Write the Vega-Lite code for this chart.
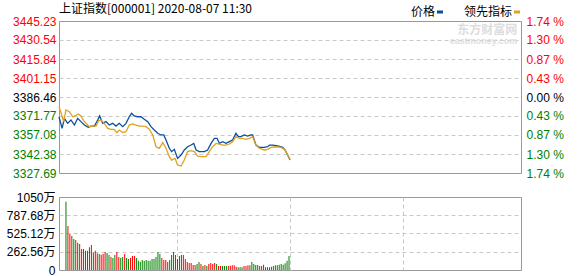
{
  "$schema": "https://vega.github.io/schema/vega-lite/v6.json",
  "padding": {"left": 5, "top": 2, "right": 5, "bottom": 3},
  "background": "white",
  "bounds": "flush",
  "spacing": 24,
  "resolve": {"scale": {"color": "independent"}, "legend": {"color": "independent"}},
  "datasets": {
    "lines": [
      {"t":0,"p":3371.2,"s":"价格"},{"t":1.6,"p":3362.2,"s":"价格"},{"t":2.8,"p":3370.0,"s":"价格"},{"t":4.5,"p":3366.1,"s":"价格"},{"t":6.2,"p":3368.7,"s":"价格"},{"t":8.0,"p":3364.8,"s":"价格"},{"t":9.7,"p":3370.0,"s":"价格"},{"t":11.4,"p":3367.4,"s":"价格"},{"t":13.2,"p":3364.8,"s":"价格"},{"t":15.2,"p":3363.0,"s":"价格"},{"t":16.6,"p":3364.0,"s":"价格"},{"t":18.4,"p":3364.0,"s":"价格"},{"t":20.1,"p":3368.7,"s":"价格"},{"t":21.1,"p":3371.8,"s":"价格"},{"t":22.7,"p":3366.1,"s":"价格"},{"t":24.4,"p":3367.4,"s":"价格"},{"t":26.1,"p":3364.8,"s":"价格"},{"t":27.9,"p":3366.1,"s":"价格"},{"t":29.6,"p":3364.0,"s":"价格"},{"t":31.3,"p":3366.1,"s":"价格"},{"t":33.1,"p":3363.5,"s":"价格"},{"t":34.8,"p":3366.1,"s":"价格"},{"t":36.5,"p":3371.2,"s":"价格"},{"t":37.7,"p":3373.8,"s":"价格"},{"t":39.1,"p":3371.8,"s":"价格"},{"t":40.9,"p":3371.2,"s":"价格"},{"t":42.6,"p":3371.2,"s":"价格"},{"t":44.3,"p":3369.2,"s":"价格"},{"t":46.1,"p":3367.4,"s":"价格"},{"t":47.8,"p":3363.5,"s":"价格"},{"t":49.5,"p":3360.9,"s":"价格"},{"t":51.3,"p":3358.4,"s":"价格"},{"t":53.0,"p":3357.1,"s":"价格"},{"t":54.4,"p":3357.1,"s":"价格"},{"t":55.6,"p":3353.2,"s":"价格"},{"t":57.3,"p":3346.8,"s":"价格"},{"t":58.5,"p":3344.2,"s":"价格"},{"t":59.9,"p":3346.0,"s":"价格"},{"t":61.6,"p":3339.0,"s":"价格"},{"t":63.4,"p":3341.6,"s":"价格"},{"t":65.1,"p":3345.5,"s":"价格"},{"t":66.8,"p":3348.0,"s":"价格"},{"t":68.6,"p":3349.3,"s":"价格"},{"t":70.0,"p":3350.6,"s":"价格"},{"t":71.2,"p":3345.5,"s":"价格"},{"t":72.9,"p":3344.2,"s":"价格"},{"t":75.5,"p":3344.2,"s":"价格"},{"t":77.2,"p":3345.5,"s":"价格"},{"t":79.0,"p":3350.6,"s":"价格"},{"t":80.7,"p":3354.5,"s":"价格"},{"t":82.1,"p":3354.5,"s":"价格"},{"t":83.3,"p":3350.6,"s":"价格"},{"t":85.0,"p":3351.9,"s":"价格"},{"t":86.8,"p":3350.6,"s":"价格"},{"t":88.5,"p":3351.9,"s":"价格"},{"t":90.2,"p":3353.2,"s":"价格"},{"t":91.9,"p":3358.4,"s":"价格"},{"t":93.2,"p":3355.8,"s":"价格"},{"t":94.5,"p":3355.8,"s":"价格"},{"t":96.3,"p":3357.1,"s":"价格"},{"t":98.0,"p":3356.3,"s":"价格"},{"t":99.7,"p":3357.1,"s":"价格"},{"t":100.6,"p":3357.1,"s":"价格"},{"t":102.3,"p":3349.3,"s":"价格"},{"t":104.1,"p":3347.5,"s":"价格"},{"t":106.7,"p":3347.5,"s":"价格"},{"t":108.4,"p":3348.0,"s":"价格"},{"t":109.3,"p":3349.3,"s":"价格"},{"t":111.0,"p":3349.3,"s":"价格"},{"t":113.6,"p":3348.6,"s":"价格"},{"t":116.2,"p":3347.5,"s":"价格"},{"t":117.4,"p":3345.5,"s":"价格"},{"t":118.8,"p":3341.6,"s":"价格"},{"t":120,"p":3337.7,"s":"价格"},
      {"t":0,"p":3379.0,"s":"领先指标"},{"t":1.4,"p":3372.5,"s":"领先指标"},{"t":2.4,"p":3367.4,"s":"领先指标"},{"t":3.6,"p":3376.4,"s":"领先指标"},{"t":5.4,"p":3375.1,"s":"领先指标"},{"t":7.1,"p":3371.2,"s":"领先指标"},{"t":8.3,"p":3371.8,"s":"领先指标"},{"t":10.0,"p":3373.3,"s":"领先指标"},{"t":11.4,"p":3371.8,"s":"领先指标"},{"t":12.8,"p":3368.2,"s":"领先指标"},{"t":14.0,"p":3366.1,"s":"领先指标"},{"t":15.8,"p":3363.5,"s":"领先指标"},{"t":17.5,"p":3364.0,"s":"领先指标"},{"t":19.2,"p":3364.0,"s":"领先指标"},{"t":20.6,"p":3368.2,"s":"领先指标"},{"t":21.8,"p":3368.7,"s":"领先指标"},{"t":23.5,"p":3366.1,"s":"领先指标"},{"t":25.3,"p":3362.2,"s":"领先指标"},{"t":27.0,"p":3361.5,"s":"领先指标"},{"t":28.7,"p":3361.5,"s":"领先指标"},{"t":30.1,"p":3358.9,"s":"领先指标"},{"t":31.3,"p":3360.9,"s":"领先指标"},{"t":33.1,"p":3358.9,"s":"领先指标"},{"t":34.8,"p":3359.6,"s":"领先指标"},{"t":36.5,"p":3364.8,"s":"领先指标"},{"t":38.3,"p":3365.6,"s":"领先指标"},{"t":40.0,"p":3364.8,"s":"领先指标"},{"t":41.7,"p":3364.0,"s":"领先指标"},{"t":43.5,"p":3364.0,"s":"领先指标"},{"t":45.2,"p":3363.5,"s":"领先指标"},{"t":46.9,"p":3361.5,"s":"领先指标"},{"t":48.7,"p":3357.1,"s":"领先指标"},{"t":50.4,"p":3348.0,"s":"领先指标"},{"t":52.1,"p":3346.8,"s":"领先指标"},{"t":53.9,"p":3351.2,"s":"领先指标"},{"t":55.6,"p":3346.8,"s":"领先指标"},{"t":57.3,"p":3340.3,"s":"领先指标"},{"t":58.5,"p":3337.7,"s":"领先指标"},{"t":60.3,"p":3339.0,"s":"领先指标"},{"t":61.6,"p":3333.9,"s":"领先指标"},{"t":63.4,"p":3333.1,"s":"领先指标"},{"t":65.1,"p":3337.7,"s":"领先指标"},{"t":66.8,"p":3344.2,"s":"领先指标"},{"t":68.6,"p":3345.0,"s":"领先指标"},{"t":70.3,"p":3344.2,"s":"领先指标"},{"t":72.0,"p":3340.8,"s":"领先指标"},{"t":73.8,"p":3340.3,"s":"领先指标"},{"t":76.4,"p":3340.3,"s":"领先指标"},{"t":78.1,"p":3344.2,"s":"领先指标"},{"t":79.8,"p":3348.0,"s":"领先指标"},{"t":81.6,"p":3350.6,"s":"领先指标"},{"t":83.3,"p":3350.1,"s":"领先指标"},{"t":85.0,"p":3349.3,"s":"领先指标"},{"t":86.8,"p":3349.3,"s":"领先指标"},{"t":88.5,"p":3350.1,"s":"领先指标"},{"t":90.2,"p":3351.9,"s":"领先指标"},{"t":91.9,"p":3355.8,"s":"领先指标"},{"t":93.7,"p":3354.5,"s":"领先指标"},{"t":95.4,"p":3354.5,"s":"领先指标"},{"t":97.1,"p":3353.7,"s":"领先指标"},{"t":98.9,"p":3354.5,"s":"领先指标"},{"t":100.6,"p":3355.8,"s":"领先指标"},{"t":102.3,"p":3349.3,"s":"领先指标"},{"t":104.1,"p":3346.8,"s":"领先指标"},{"t":106.7,"p":3345.5,"s":"领先指标"},{"t":108.4,"p":3346.0,"s":"领先指标"},{"t":110.1,"p":3347.5,"s":"领先指标"},{"t":112.7,"p":3348.0,"s":"领先指标"},{"t":115.3,"p":3347.5,"s":"领先指标"},{"t":117.1,"p":3346.0,"s":"领先指标"},{"t":118.4,"p":3342.9,"s":"领先指标"},{"t":120,"p":3338.2,"s":"领先指标"}
    ],
    "vol": [
      {"i":0,"v":983,"c":"G"},{"i":1,"v":633,"c":"R"},{"i":2,"v":518,"c":"R"},{"i":3,"v":489,"c":"G"},{"i":4,"v":446,"c":"G"},{"i":5,"v":432,"c":"R"},{"i":6,"v":393,"c":"G"},{"i":7,"v":374,"c":"R"},{"i":8,"v":302,"c":"R"},{"i":9,"v":302,"c":"G"},{"i":10,"v":278,"c":"R"},{"i":11,"v":278,"c":"R"},{"i":12,"v":326,"c":"G"},{"i":13,"v":360,"c":"R"},{"i":14,"v":254,"c":"G"},{"i":15,"v":278,"c":"R"},{"i":16,"v":240,"c":"R"},{"i":17,"v":230,"c":"G"},{"i":18,"v":221,"c":"R"},{"i":19,"v":230,"c":"R"},{"i":20,"v":259,"c":"R"},{"i":21,"v":245,"c":"G"},{"i":22,"v":216,"c":"G"},{"i":23,"v":187,"c":"R"},{"i":24,"v":173,"c":"G"},{"i":25,"v":216,"c":"G"},{"i":26,"v":259,"c":"R"},{"i":27,"v":187,"c":"R"},{"i":28,"v":173,"c":"G"},{"i":29,"v":187,"c":"G"},{"i":30,"v":230,"c":"R"},{"i":31,"v":173,"c":"G"},{"i":32,"v":158,"c":"G"},{"i":33,"v":173,"c":"R"},{"i":34,"v":201,"c":"R"},{"i":35,"v":201,"c":"R"},{"i":36,"v":173,"c":"G"},{"i":37,"v":134,"c":"G"},{"i":38,"v":120,"c":"G"},{"i":39,"v":144,"c":"G"},{"i":40,"v":129,"c":"G"},{"i":41,"v":144,"c":"G"},{"i":42,"v":134,"c":"G"},{"i":43,"v":134,"c":"G"},{"i":44,"v":158,"c":"G"},{"i":45,"v":158,"c":"G"},{"i":46,"v":187,"c":"G"},{"i":47,"v":259,"c":"G"},{"i":48,"v":230,"c":"G"},{"i":49,"v":173,"c":"R"},{"i":50,"v":144,"c":"R"},{"i":51,"v":144,"c":"R"},{"i":52,"v":115,"c":"G"},{"i":53,"v":144,"c":"G"},{"i":54,"v":216,"c":"G"},{"i":55,"v":259,"c":"G"},{"i":56,"v":216,"c":"R"},{"i":57,"v":158,"c":"R"},{"i":58,"v":201,"c":"G"},{"i":59,"v":216,"c":"G"},{"i":60,"v":216,"c":"R"},{"i":61,"v":158,"c":"R"},{"i":62,"v":115,"c":"R"},{"i":63,"v":101,"c":"R"},{"i":64,"v":101,"c":"R"},{"i":65,"v":72,"c":"R"},{"i":66,"v":72,"c":"R"},{"i":67,"v":86,"c":"G"},{"i":68,"v":115,"c":"G"},{"i":69,"v":86,"c":"R"},{"i":70,"v":58,"c":"G"},{"i":71,"v":72,"c":"R"},{"i":72,"v":58,"c":"G"},{"i":73,"v":86,"c":"R"},{"i":74,"v":101,"c":"R"},{"i":75,"v":86,"c":"R"},{"i":76,"v":101,"c":"R"},{"i":77,"v":86,"c":"G"},{"i":78,"v":58,"c":"R"},{"i":79,"v":58,"c":"R"},{"i":80,"v":58,"c":"G"},{"i":81,"v":58,"c":"G"},{"i":82,"v":58,"c":"G"},{"i":83,"v":58,"c":"R"},{"i":84,"v":62,"c":"R"},{"i":85,"v":67,"c":"R"},{"i":86,"v":67,"c":"R"},{"i":87,"v":48,"c":"R"},{"i":88,"v":38,"c":"G"},{"i":89,"v":38,"c":"G"},{"i":90,"v":38,"c":"G"},{"i":91,"v":58,"c":"R"},{"i":92,"v":58,"c":"R"},{"i":93,"v":67,"c":"R"},{"i":94,"v":67,"c":"G"},{"i":95,"v":115,"c":"G"},{"i":96,"v":86,"c":"G"},{"i":97,"v":72,"c":"G"},{"i":98,"v":72,"c":"G"},{"i":99,"v":58,"c":"R"},{"i":100,"v":58,"c":"R"},{"i":101,"v":77,"c":"G"},{"i":102,"v":38,"c":"G"},{"i":103,"v":38,"c":"G"},{"i":104,"v":38,"c":"G"},{"i":105,"v":48,"c":"G"},{"i":106,"v":58,"c":"G"},{"i":107,"v":67,"c":"G"},{"i":108,"v":67,"c":"G"},{"i":109,"v":77,"c":"G"},{"i":110,"v":86,"c":"G"},{"i":111,"v":77,"c":"G"},{"i":112,"v":96,"c":"G"},{"i":113,"v":134,"c":"G"},{"i":114,"v":201,"c":"G"}
    ]
  },
  "vconcat": [
    {
      "width": 462,
      "height": 152,
      "title": {"text": "上证指数[000001] 2020-08-07 11:30", "anchor": "start", "frame": "group", "fontSize": 12, "fontWeight": "normal", "font": "Noto Sans CJK SC", "color": "#000000", "offset": -10},
      "layer": [
        {
          "data": {"name": "lines"},
          "mark": {"type": "line", "strokeWidth": 1.3},
          "encoding": {
            "x": {"field": "t", "type": "quantitative", "scale": {"domain": [0, 240], "nice": false, "zero": false},
              "axis": {"values": [0, 60, 120, 180, 240], "title": null, "ticks": false, "domain": false, "labelPadding": 4, "labelFont": "Liberation Sans", "labelFontSize": 11, "labelColor": "#000000",
                "labelExpr": "datum.value == 0 ? '09:30' : datum.value == 60 ? '10:30' : datum.value == 120 ? '11:30/13:00' : datum.value == 180 ? '14:00' : '15:00'",
                "grid": true, "gridDash": [4, 3], "gridColor": "#c8c8c8",
                "gridOpacity": {"condition": {"test": "datum.value == 0 || datum.value == 240", "value": 0}, "value": 1}}},
            "y": {"field": "p", "type": "quantitative", "scale": {"domain": [3327.69, 3445.23], "nice": false, "zero": false},
              "axis": {"values": [3327.69, 3342.38, 3357.08, 3371.77, 3386.46, 3401.15, 3415.84, 3430.54, 3445.23], "format": ".2f", "title": null, "ticks": false, "domain": false, "labelPadding": 3, "labelFont": "Liberation Sans", "labelFontSize": 12,
                "labelColor": {"condition": [{"test": "datum.value > 3387", "value": "#ff0000"}, {"test": "datum.value < 3386", "value": "#008000"}], "value": "#000000"},
                "grid": true, "gridDash": [4, 3], "gridColor": "#c8c8c8",
                "gridOpacity": {"condition": {"test": "datum.value < 3328 || datum.value > 3445", "value": 0}, "value": 1}}},
            "color": {"field": "s", "type": "nominal", "scale": {"domain": ["价格", "领先指标"], "range": ["#0c4f9e", "#e0a21e"]},
              "legend": {"orient": "none", "legendX": 375, "legendY": -15, "direction": "horizontal", "title": null, "labelFont": "Noto Sans CJK SC", "labelFontSize": 12, "labelColor": "#000000", "symbolType": "stroke", "symbolSize": 36, "symbolStrokeWidth": 3, "labelAlign": "right", "labelOffset": -11, "columnPadding": 14}}
          }
        },
        {
          "data": {"name": "lines"},
          "mark": {"type": "point", "opacity": 0},
          "encoding": {
            "y": {"field": "p", "type": "quantitative",
              "axis": {"orient": "right", "values": [3327.69, 3342.38, 3357.08, 3371.77, 3386.46, 3401.15, 3415.84, 3430.54, 3445.23], "title": null, "ticks": false, "domain": false, "grid": false, "labelPadding": 5, "labelFont": "Liberation Sans", "labelFontSize": 12,
                "labelExpr": "format(abs(datum.value - 3386.46) / 3386.46 * 100, '.2f') + ' %'",
                "labelColor": {"condition": [{"test": "datum.value > 3387", "value": "#ff0000"}, {"test": "datum.value < 3386", "value": "#008000"}], "value": "#000000"}}}
          }
        },
        {
          "data": {"values": [{"w": "东方财富网"}]},
          "mark": {"type": "text", "font": "Noto Sans CJK SC", "fontSize": 12, "fontWeight": "bold", "color": "#dddddd", "align": "right", "baseline": "middle"},
          "encoding": {"text": {"field": "w"}, "x": {"datum": 238, "type": "quantitative", "axis": null}, "y": {"datum": 3437.9, "type": "quantitative", "axis": null}}
        },
        {
          "data": {"values": [{"w": "eastmoney.com"}]},
          "mark": {"type": "text", "font": "Liberation Sans", "fontSize": 9, "fontWeight": "bold", "color": "#dddddd", "align": "right", "baseline": "middle"},
          "encoding": {"text": {"field": "w"}, "x": {"datum": 238, "type": "quantitative", "axis": null}, "y": {"datum": 3429.6, "type": "quantitative", "axis": null}}
        }
      ],
      "resolve": {"axis": {"y": "independent"}}
    },
    {
      "width": 462,
      "height": 73,
      "data": {"name": "vol"},
      "mark": {"type": "bar", "width": 1},
      "encoding": {
        "x": {"field": "i", "type": "quantitative", "scale": {"domain": [-1, 230], "nice": false, "zero": false},
          "axis": {"values": [56.75, 114.5, 172.25], "title": null, "labels": false, "ticks": false, "domain": false, "grid": true, "gridDash": [4, 3], "gridColor": "#c8c8c8"}},
        "y": {"field": "v", "type": "quantitative", "scale": {"domain": [0, 1050], "nice": false},
          "axis": {"values": [0, 262.56, 525.12, 787.68, 1050], "title": null, "ticks": false, "domain": false, "labelPadding": 4, "labelFont": "Liberation Sans, Noto Sans CJK SC", "labelFontSize": 12, "labelColor": "#000000",
            "labelExpr": "datum.value == 0 ? '0' : datum.value == 1050 ? '1050万' : format(datum.value, '.2f') + '万'",
            "grid": true, "gridDash": [4, 3], "gridColor": "#c8c8c8",
            "gridOpacity": {"condition": {"test": "datum.value == 0 || datum.value == 1050", "value": 0}, "value": 1}}},
        "color": {"field": "c", "type": "nominal", "scale": {"domain": ["R", "G"], "range": ["#ff0000", "#008000"]}, "legend": null}
      }
    }
  ],
  "config": {
    "view": {"stroke": "#999999", "strokeWidth": 1},
    "axis": {"labelFont": "Liberation Sans"}
  }
}
